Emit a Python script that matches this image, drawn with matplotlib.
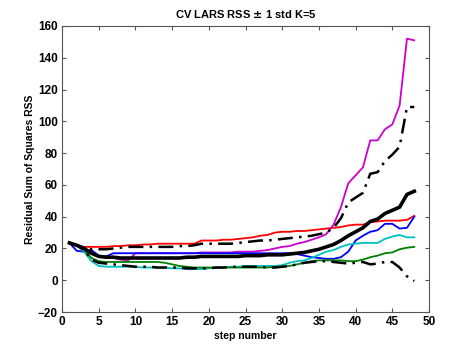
import numpy as np
import matplotlib
matplotlib.use("Agg")
import matplotlib.pyplot as plt

plt.rcParams['font.family'] = ['Liberation Sans', 'DejaVu Sans']
plt.rcParams['font.weight'] = 'bold'

steps = np.arange(1, 49)

# individual CV folds
red = [23.5, 21.5, 21, 21, 21, 21, 21.5, 21.5, 22, 22, 22.5, 22.5, 23, 23, 23, 23,
       23, 23, 25, 25, 25, 25.5, 25.5, 26, 26.5, 27, 28, 28.5, 30, 30.5, 30.5, 31,
       31, 31.5, 32, 32.5, 33, 33.5, 34.5, 35, 35, 36.5, 37, 37.5, 37.5, 37.5, 38, 40.5]
magenta = [23.5, 22, 20, 17, 15, 14.5, 14, 13, 12.5, 17, 17, 17, 17, 17, 17, 17,
           17, 17, 17.5, 17.5, 17.5, 17.5, 17.5, 18, 18, 18, 18.5, 19, 20, 21, 21.5, 23,
           24, 25.5, 27, 29, 35, 46, 61, 66, 71, 88, 88, 95, 98, 110, 152, 151]
blue = [23.5, 18.5, 18, 19, 15.5, 15, 17, 17, 17, 17, 17, 17, 17, 17, 17, 17,
        17, 17, 17, 17, 17, 17, 17, 17, 17, 17, 17, 17, 17, 17, 17, 16.5,
        15.5, 14.5, 14, 13.5, 13.5, 14.5, 18, 25, 28, 30.5, 31.5, 35.5, 35.5, 32.5, 33, 40]
cyan = [23.5, 22, 18, 12, 9, 8.5, 8.5, 8.5, 8.5, 8.5, 8, 8, 8, 8, 7.5, 7.5,
        7, 7, 7, 7.5, 8, 8, 8.5, 8.5, 9, 9, 9, 9, 9, 9.5, 11, 12,
        12.5, 14, 16, 18, 19, 21, 22.5, 23, 23.5, 23.5, 23.5, 26, 27.5, 28.5, 27, 27]
green = [23.5, 22, 19, 14, 12, 11.5, 11.5, 11.5, 11.5, 11.5, 11.5, 11.5, 11.5, 11, 10, 9,
         8.5, 8, 8, 8, 8, 8, 8, 8, 8, 8, 8, 8, 8.5, 8.5, 9, 10,
         11, 12, 12.5, 12.5, 12.5, 12.5, 12, 12, 13, 14.5, 15.5, 17, 17.5, 19.5, 20.5, 21]

# mean and +/- 1 std
mean_rss = [23.5, 22, 20, 17, 15, 14.5, 14.5, 14, 14, 14, 14, 14, 14, 14, 14, 14,
            14.5, 14.5, 15, 15, 15, 15, 15, 15, 15.5, 15.5, 15.5, 16, 16, 16, 16.5, 17,
            17.5, 18.5, 19.5, 21, 22.5, 25, 28, 30.5, 33, 37, 38.5, 42, 44, 46, 54, 56]
upper = [23.5, 22, 20.5, 19.5, 19.5, 19.5, 20, 20.5, 21, 21, 21, 21, 21, 21, 21, 21.5,
         21.5, 22, 23, 23, 23, 23, 23, 23.5, 24, 24.5, 25, 25, 25.5, 26, 26.5, 27,
         27.5, 28, 29, 30, 33, 39, 49, 52, 55, 67, 68, 75, 79, 84, 109, 109]
lower = [23.5, 22, 19, 13, 11, 10.5, 10, 9.5, 9, 8.5, 8.5, 8.5, 8, 8, 8, 8,
         7.5, 7.5, 7.5, 7.5, 8, 8, 8.5, 8.5, 8.5, 8.5, 8.5, 8, 8, 8.5, 9, 10,
         11, 11.5, 12, 12, 11.5, 11, 10.5, 11, 11.5, 10, 10.5, 11.5, 11.5, 8, 2.5, -0.5]

fig = plt.figure(figsize=(4.74, 3.51), dpi=100)
ax = fig.add_axes([0.131, 0.111, 0.774, 0.815])

ax.plot(steps, red, color='#ff0000', lw=1.3)
ax.plot(steps, magenta, color='#cc00cc', lw=1.3)
ax.plot(steps, blue, color='#0000ff', lw=1.3)
ax.plot(steps, cyan, color='#00bfbf', lw=1.3)
ax.plot(steps, green, color='#008000', lw=1.3)
ax.plot(steps, mean_rss, color='black', lw=2.6)
ax.plot(steps, upper, color='black', lw=1.8, dashes=(6, 2.5, 1, 2.5))
ax.plot(steps, lower, color='black', lw=1.8, dashes=(6, 2.5, 1, 2.5))

ax.set_xlim(0, 50)
ax.set_ylim(-20, 160)
ax.set_xticks(range(0, 51, 5))
ax.set_yticks(range(-20, 161, 20))
ax.tick_params(direction='in', length=3, labelsize=8.5, top=True, right=True,
               color='#555555', pad=3)
for lab in ax.get_xticklabels() + ax.get_yticklabels():
    lab.set_fontweight('bold')
for s in ax.spines.values():
    s.set_color('#555555')

ax.set_title('CV LARS RSS $\\pm$ 1 std K=5', fontsize=8, fontweight='bold')
ax.set_xlabel('step number', fontsize=7.5, fontweight='bold', labelpad=2)
ax.set_ylabel('Residual Sum of Squares RSS', fontsize=7.5, fontweight='bold', labelpad=2)

fig.savefig('out.png', dpi=100)
